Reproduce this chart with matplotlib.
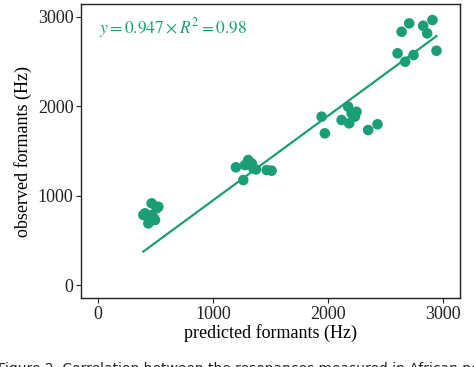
import matplotlib
matplotlib.use("Agg")
import matplotlib.pyplot as plt
import numpy as np

predicted = [2905, 2703, 2824, 2637, 2859, 2940, 2602, 2741, 2668,
             1943, 1971, 2173, 2246, 2116, 2182, 2231, 2347, 2428, 2203,
             1199, 1263, 1306, 1278, 1350, 1336, 1466, 1509, 1373,
             468, 512, 410, 468, 439, 497, 526, 396, 488]
observed = [2964, 2927, 2900, 2833, 2815, 2621, 2592, 2573, 2498,
            1883, 1697, 1994, 1938, 1846, 1809, 1883, 1734, 1798, 1921,
            1317, 1174, 1398, 1342, 1305, 1361, 1286, 1279, 1293,
            914, 858, 802, 783, 690, 727, 876, 783, 745]

slope = 0.947
r2 = 0.98
ticks = [0, 1000, 2000, 3000]
green = "#1b9e77"

plt.rcParams["font.family"] = ["Liberation Serif", "DejaVu Serif"]
plt.rcParams["mathtext.fontset"] = "stix"

fig = plt.figure(figsize=(4.74, 3.67), dpi=100)
ax = fig.add_axes([0.171, 0.188, 0.799, 0.801])

ax.scatter(predicted, observed, s=58, color=green, edgecolors="none", zorder=3)

# fitted line through the origin over the range of the data
xfit = np.array([min(predicted), max(predicted)])
ax.plot(xfit, slope * xfit, color=green, lw=1.6, zorder=2)

ax.text(0.047, 0.92, r"$y = %.3f \times R^2 = %.2f$" % (slope, r2),
        transform=ax.transAxes, color=green, fontsize=12.5, va="center", ha="left")

ax.set_xlim(-145, 3142)
ax.set_ylim(-145, 3143)
ax.set_xticks(ticks)
ax.set_yticks(ticks)
ax.tick_params(labelsize=13, length=3.5, width=0.8, pad=2, colors="#222222", labelcolor="#222222")
for s in ax.spines.values():
    s.set_linewidth(1.0)
    s.set_color("#222222")
ax.set_xlabel("predicted formants (Hz)", fontsize=13, labelpad=1)
ax.set_ylabel("observed formants (Hz)", fontsize=13, labelpad=4)

# caption, cut off at the bottom edge as in the source image
fig.text(-0.005, 1 - 362 / 367, "Figure 2. Correlation between the resonances measured in African penguin",
         fontsize=10, va="top", ha="left", family="DejaVu Sans", color="#222222")

fig.savefig("out.png", dpi=100)
